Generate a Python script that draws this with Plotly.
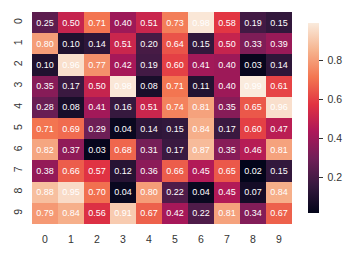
import plotly.graph_objects as go

x_labels = ["0", "1", "2", "3", "4", "5", "6", "7", "8", "9"]
y_labels = ["0", "1", "2", "3", "4", "5", "6", "7", "8", "9"]

row0 = [0.25, 0.50, 0.71, 0.40, 0.51, 0.73, 0.98, 0.58, 0.19, 0.15]
row1 = [0.80, 0.10, 0.14, 0.51, 0.20, 0.64, 0.15, 0.50, 0.33, 0.39]
row2 = [0.10, 0.96, 0.77, 0.42, 0.19, 0.60, 0.41, 0.40, 0.03, 0.14]
row3 = [0.35, 0.17, 0.50, 0.98, 0.08, 0.71, 0.11, 0.40, 0.99, 0.61]
row4 = [0.28, 0.08, 0.41, 0.16, 0.51, 0.74, 0.81, 0.35, 0.65, 0.96]
row5 = [0.71, 0.69, 0.29, 0.04, 0.14, 0.15, 0.84, 0.17, 0.60, 0.47]
row6 = [0.82, 0.37, 0.03, 0.68, 0.31, 0.17, 0.87, 0.35, 0.46, 0.81]
row7 = [0.38, 0.66, 0.57, 0.12, 0.36, 0.66, 0.45, 0.65, 0.02, 0.15]
row8 = [0.88, 0.95, 0.70, 0.04, 0.80, 0.22, 0.04, 0.45, 0.07, 0.84]
row9 = [0.79, 0.84, 0.56, 0.91, 0.67, 0.42, 0.22, 0.81, 0.34, 0.67]

z = [row0, row1, row2, row3, row4, row5, row6, row7, row8, row9]

cbar_ticks = [0.2, 0.4, 0.6, 0.8]

rocket = [
    [0.0, "#03051A"],
    [0.143, "#35193E"],
    [0.286, "#701F57"],
    [0.429, "#AD1759"],
    [0.571, "#E13342"],
    [0.714, "#F37651"],
    [0.857, "#F6B48F"],
    [1.0, "#FAEBDD"],
]

flat = [v for r in z for v in r]
font_family = "Liberation Sans, Arial"
tick_color = "#333333"

fig = go.Figure(go.Heatmap(
    z=z, x=x_labels, y=y_labels,
    colorscale=rocket,
    zmin=min(flat), zmax=max(flat),
    texttemplate="%{z:.2f}",
    textfont=dict(family=font_family, size=9, color="white"),
    xgap=0, ygap=0,
    colorbar=dict(
        thickness=11, len=0.99, lenmode="fraction",
        x=1.06, xanchor="left", xpad=0, y=0.5, yanchor="middle",
        outlinewidth=0,
        tickvals=cbar_ticks,
        ticktext=["\u00a0" + f"{t:.1f}" for t in cbar_ticks],
        ticks="outside", ticklen=4, tickwidth=1.2, tickcolor=tick_color,
        tickfont=dict(family=font_family, size=10.5, color=tick_color),
    ),
))

fig.update_xaxes(
    type="category", showgrid=False, zeroline=False, ticks="",
    ticklabelstandoff=7,
    tickfont=dict(family=font_family, size=10.5, color=tick_color),
)
fig.update_yaxes(
    type="category", autorange="reversed", showgrid=False, zeroline=False, ticks="",
    tickangle=-90, ticklabelstandoff=7,
    tickfont=dict(family=font_family, size=10.5, color=tick_color),
)

fig.update_layout(
    width=354, height=257,
    margin=dict(l=27, r=59, t=12, b=27),
    paper_bgcolor="white", plot_bgcolor="white",
    showlegend=False,
)

fig.write_html("out.html")
